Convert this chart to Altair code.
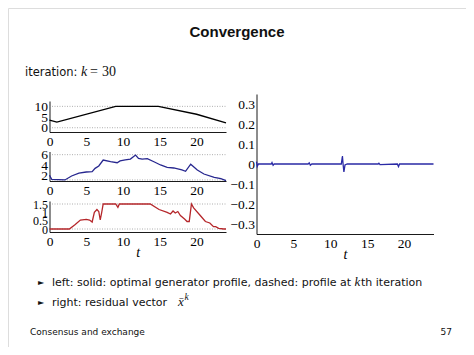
import altair as alt
import pandas as pd

# ---------------- data ----------------
# panel 1 (black): generator 1 profile
t1 = [0.0, 1.0, 9.0, 14.8, 20.0, 24.0]
g1 = [3.5, 2.6, 10.0, 10.0, 6.3, 2.3]
b1 = [0.0, 10.0]

# panel 2 (blue): generator 2 profile
t2 = [0.0, 0.3, 2.1, 3.0, 4.0, 5.0, 5.8, 6.2, 6.7, 7.3, 8.3, 9.2, 9.6, 10.3, 11.0,
      11.7, 12.1, 12.6, 13.3, 14.2, 15.1, 16.0, 16.9, 18.0, 18.5, 19.2, 20.1, 21.0,
      22.4, 23.3, 24.0]
g2 = [2.1, 1.3, 1.2, 1.95, 2.5, 2.71, 2.77, 3.4, 3.85, 4.98, 4.66, 4.47, 4.8, 5.0, 5.17,
      5.93, 5.3, 5.17, 5.23, 4.66, 4.04, 3.6, 3.47, 3.09, 2.84, 4.2, 3.09, 2.33,
      1.7, 1.44, 1.06]
b2 = [1.2, 6.0]

# panel 3 (red): generator 3 profile
t3 = [0.0, 2.7, 3.5, 4.2, 5.0, 5.45, 5.8, 6.1, 6.45, 6.7, 6.9, 7.1, 7.3, 9.0, 9.3, 9.5,
      13.7, 14.9, 16.0, 16.45, 16.8, 17.1, 17.45, 17.8, 18.4, 18.7, 19.0, 19.3, 19.6,
      20.5, 21.2, 21.8, 22.3, 22.6, 23.0, 23.7, 24.0]
g3 = [0.0, 0.0, 0.27, 0.54, 0.58, 0.54, 0.42, 1.0, 1.17, 1.05, 0.54, 1.0, 1.5, 1.5, 1.3, 1.5,
      1.5, 1.17, 1.0, 0.9, 1.08, 0.96, 1.05, 0.81, 0.58, 0.45, 0.45, 1.5, 1.27,
      0.81, 0.45, 0.36, 0.14, 0.14, 0.04, 0.0, 0.0]
b3 = [0.0, 1.5]

# right panel: residual vector
t4 = [0.0, 0.1, 0.25, 0.5, 2.0, 2.1, 2.25, 2.4, 7.0, 7.15, 7.3, 7.5, 11.5, 11.65,
      11.75, 11.85, 12.0, 12.3, 16.5, 16.6, 16.75, 19.1, 19.25, 19.4, 24.0]
r4 = [0.012, -0.012, 0.0, 0.0, 0.0, 0.007, -0.006, 0.0, 0.0, 0.006, -0.006, 0.0, 0.0,
      0.04, -0.005, -0.04, -0.005, 0.0, 0.0, 0.004, -0.003, 0.0, -0.013, 0.0, 0.0]

x_ticks = [0, 5, 10, 15, 20]
y1_ticks = [0, 5, 10]
y2_ticks = [2, 4, 6]
y3_ticks = [0, 0.5, 1, 1.5]
y4_ticks = [-0.3, -0.2, -0.1, 0, 0.1, 0.2, 0.3]

W, H = 458, 339
SERIF = "Liberation Serif"
SANS = "DejaVu Sans"
LBL = "replace(toString(datum.value), '-', '\u2212')"


def axis(orient, offset, values, title=None, lsize=13.5):
    kw = dict(orient=orient, offset=offset, values=values, grid=False, ticks=False,
              domainColor="black", domainWidth=0.9, labelFont=SERIF, labelFontSize=lsize,
              labelColor="black", labelPadding=2, labelOverlap=False, labelFlush=False,
              labelBound=False, labelExpr=LBL)
    if title:
        kw.update(title=title, titleFont=SERIF, titleFontStyle="italic", titleFontWeight="normal",
                  titleFontSize=14, titleColor="black", titlePadding=-2)
    else:
        kw.update(title=None)
    return alt.Axis(**kw)


def panel(t, g, bounds, color, xr, yr, ydom, yvals, xoff, yoff, xtitle=None, ysize=13.5):
    xs = alt.Scale(domain=[0, 24], range=xr, nice=False, zero=False)
    ys = alt.Scale(domain=ydom, range=yr, nice=False, zero=False)
    xa = axis("bottom", xoff, x_ticks, xtitle)
    ya = axis("left", yoff, yvals, lsize=ysize)
    line = alt.Chart(pd.DataFrame({"t": t, "v": g})).mark_line(
        color=color, strokeWidth=1.3).encode(
        x=alt.X("t:Q", scale=xs, axis=xa),
        y=alt.Y("v:Q", scale=ys, axis=ya))
    layers = []
    if bounds:
        bd = pd.DataFrame({"t": [0] * len(bounds), "t1": [24] * len(bounds), "v": bounds})
        rules = alt.Chart(bd).mark_rule(color="#9a9a9a", strokeWidth=0.8,
                                        strokeDash=[1, 1.5]).encode(
            x=alt.X("t:Q", scale=xs, axis=xa), x2="t1:Q",
            y=alt.Y("v:Q", scale=ys, axis=ya))
        layers.append(rules)
    layers.append(line)
    return alt.layer(*layers)


LX = [41.5, 218.0]
RX = [248.5, 425.5]
p1 = panel(t1, g1, b1, "#000000", LX, [124, 93], [-2, 12.5], y1_ticks, 124 - H, -41.5)
p2 = panel(t2, g2, b2, "#27278f", LX, [173, 143.5], [1.0, 6.6], y2_ticks, 173 - H, -41.5)
p3 = panel(t3, g3, b3, "#b5262a", LX, [224, 193], [-0.18, 1.68], y3_ticks, 224 - H, -41.5, "t",
           ysize=12)
p4 = panel(t4, r4, None, "#2a2aa5", RX, [226, 86], [-0.35, 0.35], y4_ticks, 226 - H, -248.5, "t")

one = pd.DataFrame({"a": [0]})


def txt(s, x, y, font=SANS, size=11.5, weight="normal", style="normal", align="left",
        color="#111111"):
    return alt.Chart(one).mark_text(font=font, fontSize=size, fontWeight=weight,
                                    fontStyle=style, align=align, baseline="alphabetic",
                                    color=color).encode(
        x=alt.value(x), y=alt.value(y), text=alt.value(s))


texts = [
    txt("Convergence", 229, 28.7, font="Liberation Sans", size=15, weight="bold",
        align="center"),
    txt("iteration:", 17, 68, size=11.5),
    txt("k", 73, 68, font=SERIF, size=14, style="italic"),
    txt("=", 82, 68, font=SERIF, size=14),
    txt("30", 94, 68, font=SERIF, size=14),
    txt("\u25ba", 30, 277, size=8),
    txt("left: solid: optimal generator profile, dashed: profile at", 44, 278, size=11),
    txt("k", 346.5, 278, font=SERIF, size=13, style="italic"),
    txt("th iteration", 353, 278, size=11),
    txt("\u25ba", 30, 296.5, size=8),
    txt("right: residual vector", 44, 297.5, size=11),
    txt("x\u0304", 170, 297.5, font=SERIF, size=13, style="italic"),
    txt("k", 176.5, 292, font=SERIF, size=9.5, style="italic"),
    txt("Consensus and exchange", 22, 327, size=9),
    txt("57", 444, 327, size=9, align="right"),
]

chart = alt.layer(p1, p2, p3, p4, *texts).resolve_scale(
    x="independent", y="independent").resolve_axis(
    x="independent", y="independent").properties(
    width=W, height=H, autosize=alt.AutoSizeParams(type="none"), padding=0
).configure_view(stroke=None).configure(background="white")

chart.save("out.html", embed_options={"renderer": "svg", "actions": False})
